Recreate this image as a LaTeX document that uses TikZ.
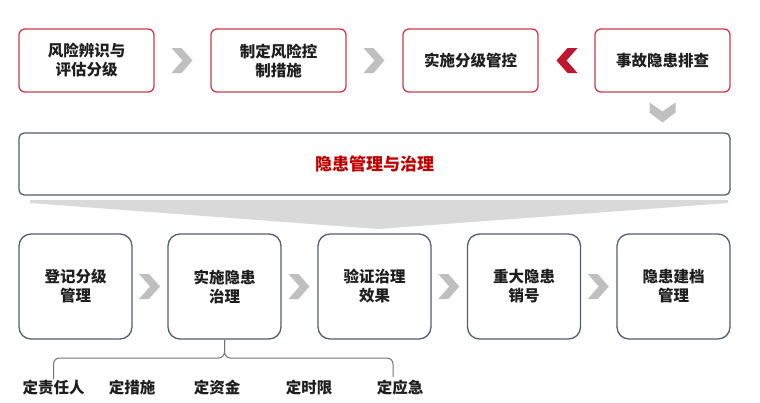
\documentclass[tikz,border=0pt]{standalone}
\usepackage{fontspec}
\setmainfont{Noto Sans CJK SC}
\usetikzlibrary{calc}
\definecolor{boxred}{RGB}{204,58,78}
\definecolor{chevred}{RGB}{190,22,46}
\definecolor{bannerred}{RGB}{192,0,0}
\definecolor{slate}{RGB}{84,94,110}
\definecolor{chevgray}{RGB}{191,191,191}
\definecolor{funnelgray}{RGB}{217,217,217}
\definecolor{txtdark}{RGB}{30,30,30}

\begin{document}
\begin{tikzpicture}[x=1pt, y=-1pt,
	every node/.style={font=\fontsize{15.5}{19}\selectfont\bfseries, text=txtdark, align=center},
	topbox/.style={draw=boxred, line width=1.3pt, rounded corners=6pt, minimum width=135pt, minimum height=63pt},
	stepbox/.style={draw=slate, line width=1.3pt, rounded corners=12pt, minimum width=113pt, minimum height=105pt},
	lbl/.style={inner sep=1pt},
	chevright/.pic={\fill[chevgray] (-11,-12.5) -- (-1,-12.5) -- (10,0) -- (-1,12.5) -- (-11,12.5) -- (0,0) -- cycle;},
	chevleft/.pic={\fill[chevred] (11,-12.5) -- (1,-12.5) -- (-10,0) -- (1,12.5) -- (11,12.5) -- (0,0) -- cycle;},
	chevdown/.pic={\fill[chevgray] (-13,-10) -- (0,-1) -- (13,-10) -- (13,0) -- (0,10) -- (-13,0) -- cycle;}]
	\useasboundingbox (0,0) rectangle (760,402);
	% top row
	\node[topbox] (r1) at (86.5,60.5) {风险辨识与\\评估分级};
	\node[topbox] (r2) at (278.5,60.5) {制定风险控\\制措施};
	\node[topbox] (r3) at (470.5,60.5) {实施分级管控};
	\node[topbox] (r4) at (662.5,60.5) {事故隐患排查};
	\pic at ($(r1.east)!.5!(r2.west)$) {chevright};
	\pic at ($(r2.east)!.5!(r3.west)$) {chevright};
	\pic at ($(r3.east)!.5!(r4.west)$) {chevleft};
	% banner
	\node[draw=slate, line width=1.3pt, rounded corners=5pt, minimum width=711pt, minimum height=62pt, text=bannerred, font=\fontsize{17}{20}\selectfont\bfseries] (hz) at (374.5,164) {隐患管理与治理};
	\pic at ($(r4.south)!.5!(r4.south |- hz.north)$) {chevdown};
	\fill[funnelgray] (30,200) -- (728,200) -- (728,203) -- (378,229) -- (30,203) -- cycle;
	% bottom row
	\node[stepbox] (s1) at (75.5,286.5) {登记分级\\管理};
	\node[stepbox] (s2) at (224.5,286.5) {实施隐患\\治理};
	\node[stepbox] (s3) at (374.5,286.5) {验证治理\\效果};
	\node[stepbox] (s4) at (524,286.5) {重大隐患\\销号};
	\node[stepbox] (s5) at (673.5,286.5) {隐患建档\\管理};
	\foreach \a/\b in {s1/s2, s2/s3, s3/s4, s4/s5}
		\pic at ($(\a.east)!.5!(\b.west)$) {chevright};
	% five measures
	\node[lbl] (t1) at (53.5,388) {定责任人};
	\node[lbl] (t2) at (132,388) {定措施};
	\node[lbl] (t3) at (217,388) {定资金};
	\node[lbl] (t4) at (309,388) {定时限};
	\node[lbl] (t5) at (400,388) {定应急};
	\coordinate (bR) at (393,377);
	\draw[gray!90!black, line width=1pt, rounded corners=6pt] (t1.north) -- (t1.north |- 0,358) -- (s2.south |- 0,358) -- (s2.south);
	\draw[gray!90!black, line width=1pt, rounded corners=6pt] (bR) -- (bR |- 0,358) -- (s2.south |- 0,358) -- (s2.south);
\end{tikzpicture}
\end{document}
